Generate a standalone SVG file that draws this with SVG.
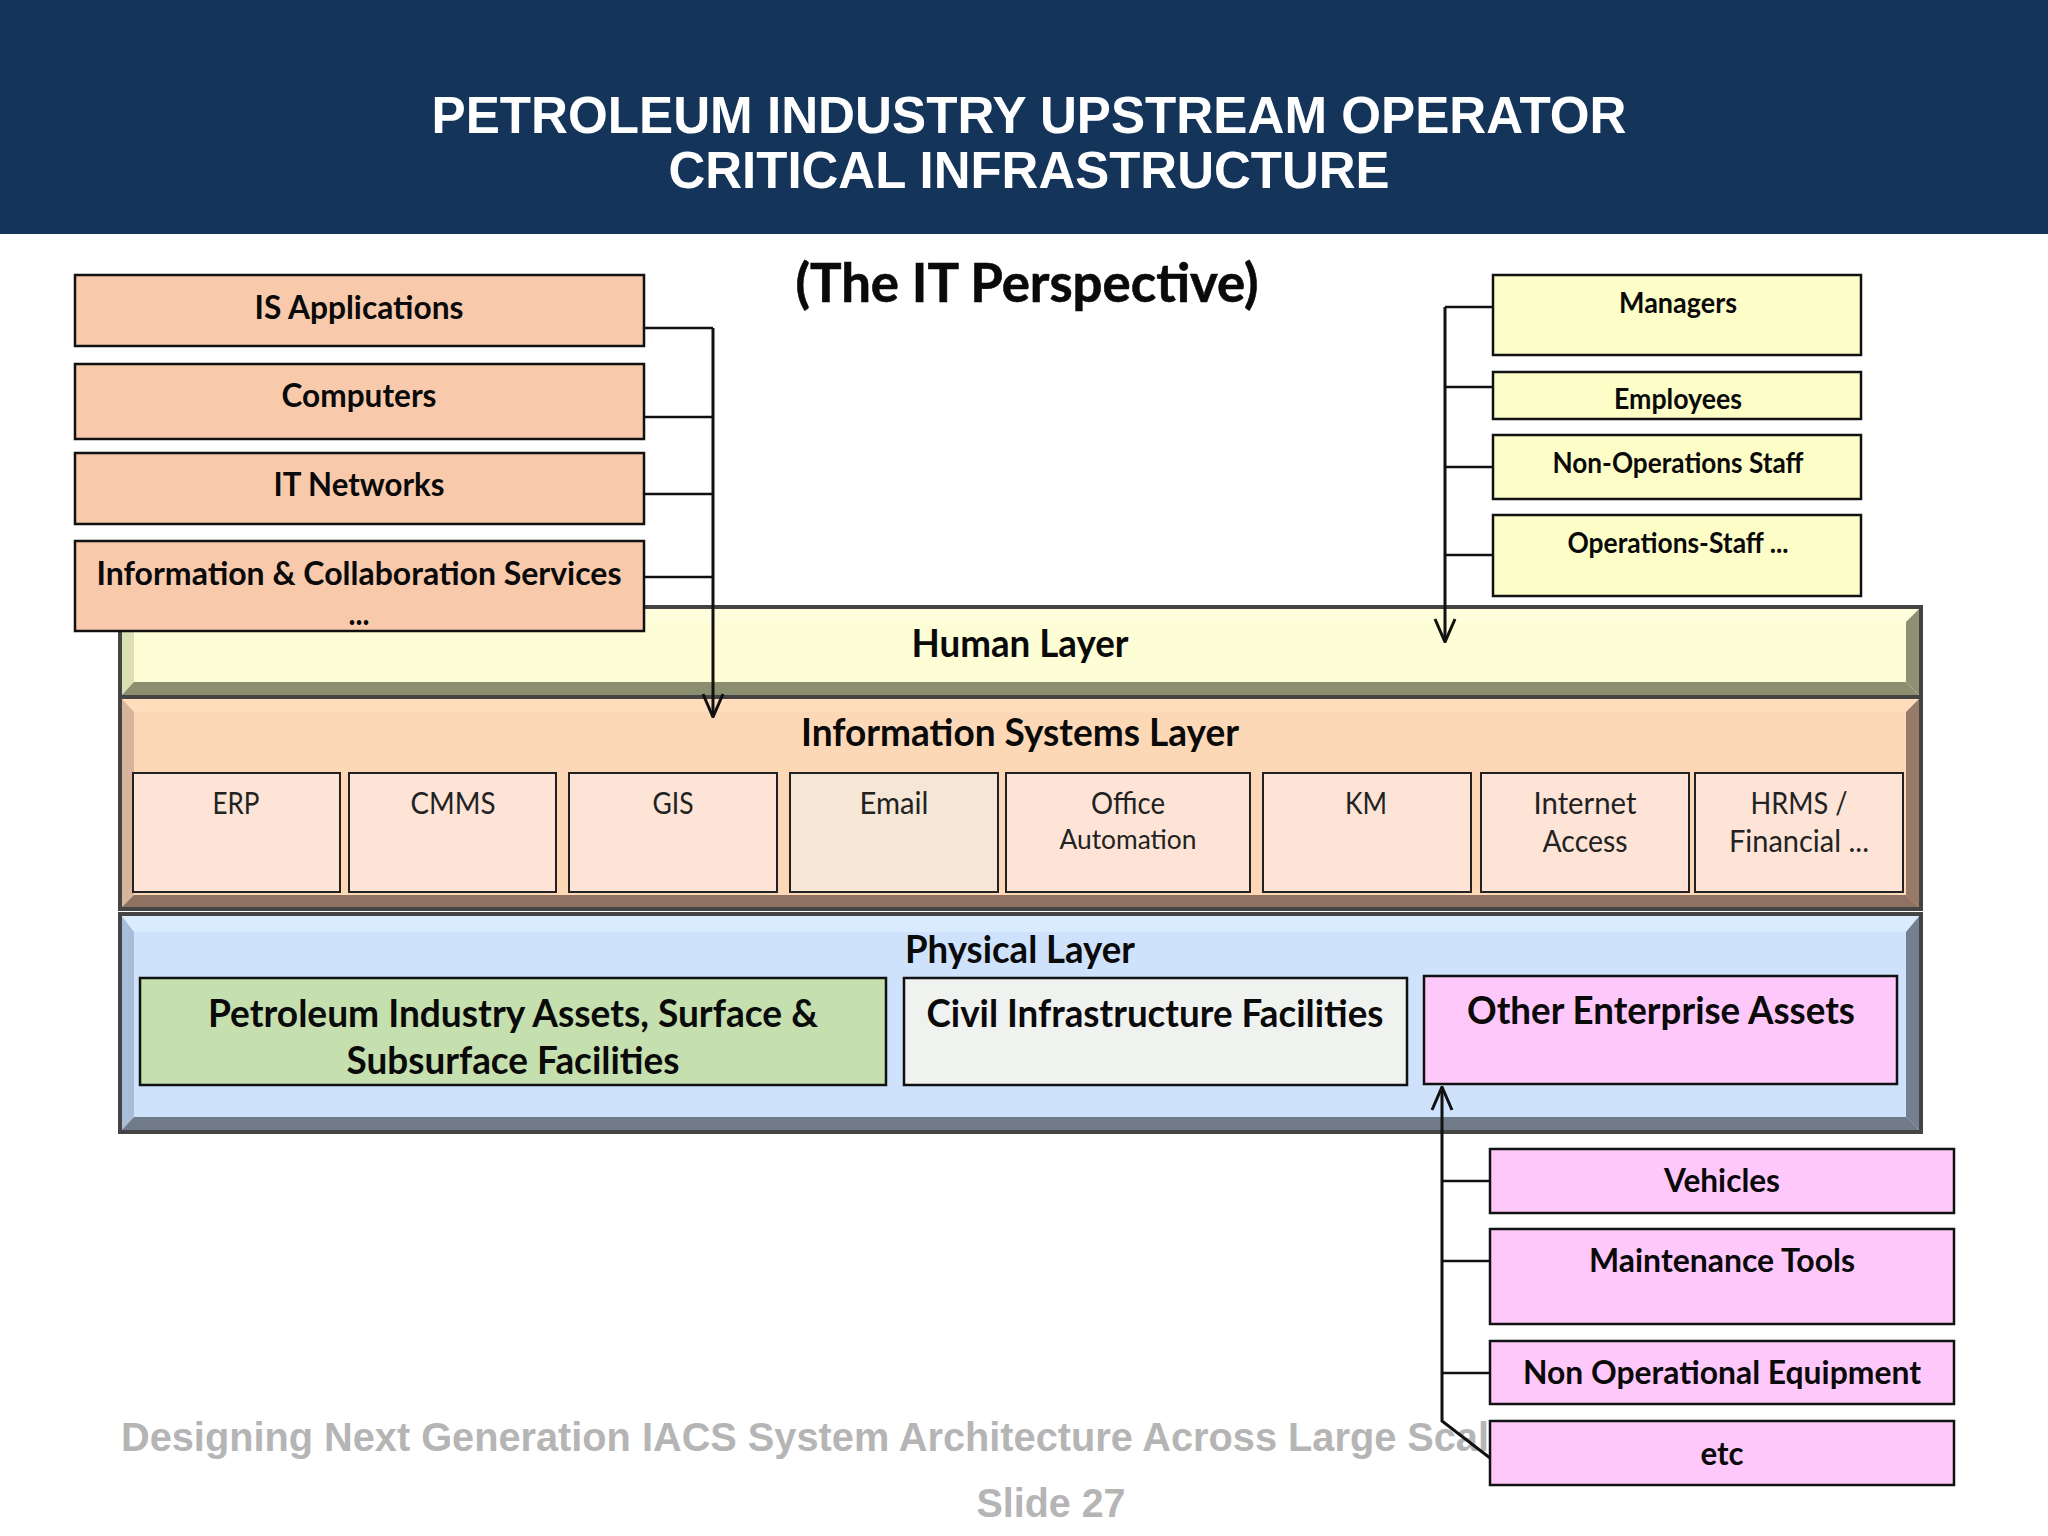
<svg xmlns="http://www.w3.org/2000/svg" width="2048" height="1536" viewBox="0 0 2048 1536">
<defs>
<style>
text{font-family:"Lato","Carlito","Open Sans",sans-serif;text-anchor:middle;fill:#0a0a0a}
.b{font-weight:700}
.s28{font-size:28px}.s32{font-size:32px}.s38{font-size:38px}
.r{font-size:30px;font-weight:400;fill:#222}
.box{stroke:#111;stroke-width:2.5}
.or{fill:#f8c9ab}.ye{fill:#fdfdc8}.pk{fill:#fec8fb}
.sub{fill:#fde4d6;stroke:#222;stroke-width:2}
.frame{fill:none;stroke:#444;stroke-width:4}
.foot{font-family:"Liberation Sans",Arial,sans-serif;font-weight:700;fill:#b5b5b5;font-size:41px}
.conn{fill:none;stroke:#111;stroke-width:2.5}
.trunk{stroke-width:3}
</style>
<marker id="open" markerUnits="userSpaceOnUse" viewBox="0 0 26 24" refX="25" refY="12" markerWidth="26" markerHeight="24" orient="auto"><path d="M2 2L25 12L2 22" fill="none" stroke="#111" stroke-width="3"/></marker>
</defs>
<rect width="2048" height="1536" fill="#fff"/>
<g id="header">
<rect width="2048" height="234" fill="#15345a"/>
<text x="1029" y="133" textLength="1195" lengthAdjust="spacingAndGlyphs" style="font-family:'Liberation Sans',Arial,sans-serif;font-weight:700;font-size:51px;fill:#fff">PETROLEUM INDUSTRY UPSTREAM OPERATOR</text>
<text x="1029" y="188" textLength="721" lengthAdjust="spacingAndGlyphs" style="font-family:'Liberation Sans',Arial,sans-serif;font-weight:700;font-size:51px;fill:#fff">CRITICAL INFRASTRUCTURE</text>
</g>
<text id="subtitle" class="b" x="1027" y="302" font-size="53" textLength="463" lengthAdjust="spacingAndGlyphs" stroke="#0a0a0a" stroke-width="0.6">(The IT Perspective)</text>
<g id="footer">
<text class="foot" x="121" y="1451" style="text-anchor:start" textLength="1368" lengthAdjust="spacingAndGlyphs">Designing Next Generation IACS System Architecture Across Large Scal</text>
<text class="foot" x="1051" y="1517" textLength="149" lengthAdjust="spacingAndGlyphs">Slide 27</text>
</g>
<g id="human-layer">
<rect x="120" y="607" width="1801" height="90" fill="#fdfdd6"/>
<polygon points="120,607 1921,607 1906,622 134,622" fill="#fefedc"/>
<polygon points="120,607 134,622 134,682 120,697" fill="#dcdeb4"/>
<polygon points="1921,607 1906,622 1906,682 1921,697" fill="#8e9072"/>
<polygon points="120,697 134,682 1906,682 1921,697" fill="#8b8e6f"/>
<rect class="frame" x="120" y="607" width="1801" height="90"/>
<text class="b s38" x="1020" y="657" textLength="217" lengthAdjust="spacingAndGlyphs">Human Layer</text>
</g>
<g id="information-systems-layer">
<rect x="120" y="697" width="1801" height="212" fill="#fdd8b6"/>
<polygon points="120,697 1921,697 1906,712 134,712" fill="#fedcbc"/>
<polygon points="120,697 134,712 134,895 120,909" fill="#d9b49c"/>
<polygon points="1921,697 1906,712 1906,895 1921,909" fill="#987a68"/>
<polygon points="120,909 134,895 1906,895 1921,909" fill="#8f7262"/>
<rect class="frame" x="120" y="697" width="1801" height="212"/>
<text class="b s38" x="1020" y="746" textLength="438" lengthAdjust="spacingAndGlyphs">Information Systems Layer</text>
</g>
<g id="erp"><rect class="sub" x="133" y="773" width="207" height="119"/><text class="r" x="236" y="814" textLength="47" lengthAdjust="spacingAndGlyphs">ERP</text></g>
<g id="cmms"><rect class="sub" x="349" y="773" width="207" height="119"/><text class="r" x="453" y="814" textLength="85" lengthAdjust="spacingAndGlyphs">CMMS</text></g>
<g id="gis"><rect class="sub" x="569" y="773" width="208" height="119"/><text class="r" x="673" y="814" textLength="41" lengthAdjust="spacingAndGlyphs">GIS</text></g>
<g id="email"><rect class="sub" x="790" y="773" width="208" height="119" style="fill:#f6e6d6"/><text class="r" x="894" y="814" textLength="69" lengthAdjust="spacingAndGlyphs">Email</text></g>
<g id="office"><rect class="sub" x="1006" y="773" width="244" height="119"/><text class="r" x="1128" y="814" textLength="74" lengthAdjust="spacingAndGlyphs">Office</text><text class="r" x="1128" y="849" style="font-size:27px" textLength="137" lengthAdjust="spacingAndGlyphs">Automation</text></g>
<g id="km"><rect class="sub" x="1263" y="773" width="208" height="119"/><text class="r" x="1366" y="814" textLength="42" lengthAdjust="spacingAndGlyphs">KM</text></g>
<g id="internet"><rect class="sub" x="1481" y="773" width="208" height="119"/><text class="r" x="1585" y="814" textLength="103" lengthAdjust="spacingAndGlyphs">Internet</text><text class="r" x="1585" y="852" textLength="85" lengthAdjust="spacingAndGlyphs">Access</text></g>
<g id="hrms"><rect class="sub" x="1695" y="773" width="208" height="119"/><text class="r" x="1799" y="814" textLength="97" lengthAdjust="spacingAndGlyphs">HRMS /</text><text class="r" x="1799" y="852" textLength="140" lengthAdjust="spacingAndGlyphs">Financial ...</text></g>
<g id="physical-layer">
<rect x="120" y="914" width="1801" height="218" fill="#cfe2fb"/>
<polygon points="120,914 1921,914 1906,932 134,932" fill="#d9ecfd"/>
<polygon points="120,914 134,932 134,1117 120,1132" fill="#a9bcd8"/>
<polygon points="1921,914 1906,932 1906,1117 1921,1132" fill="#748090"/>
<polygon points="120,1132 134,1117 1906,1117 1921,1132" fill="#717a88"/>
<rect class="frame" x="120" y="914" width="1801" height="218"/>
<text class="b s38" x="1020" y="963" textLength="230" lengthAdjust="spacingAndGlyphs">Physical Layer</text>
</g>
<g id="petroleum-assets"><rect class="box" x="140" y="978" width="746" height="107" fill="#c5dfae"/><text class="b s38" x="513" y="1027" textLength="610" lengthAdjust="spacingAndGlyphs">Petroleum Industry Assets, Surface &amp;</text><text class="b s38" x="513" y="1074" textLength="333" lengthAdjust="spacingAndGlyphs">Subsurface Facilities</text></g>
<g id="civil-infrastructure"><rect class="box" x="904" y="978" width="503" height="107" fill="#f0f2f0"/><text class="b s38" x="1155" y="1027" textLength="457" lengthAdjust="spacingAndGlyphs">Civil Infrastructure Facilities</text></g>
<g id="other-assets"><rect class="box pk" x="1424" y="976" width="473" height="108"/><text class="b s38" x="1661" y="1024" textLength="388" lengthAdjust="spacingAndGlyphs">Other Enterprise Assets</text></g>
<g id="is-applications"><rect class="box or" x="75" y="275" width="569" height="71"/><text class="b s32" x="359" y="319" textLength="209" lengthAdjust="spacingAndGlyphs">IS Applications</text></g>
<g id="computers"><rect class="box or" x="75" y="364" width="569" height="75"/><text class="b s32" x="359" y="407" textLength="155" lengthAdjust="spacingAndGlyphs">Computers</text></g>
<g id="it-networks"><rect class="box or" x="75" y="453" width="569" height="71"/><text class="b s32" x="359" y="496" textLength="171" lengthAdjust="spacingAndGlyphs">IT Networks</text></g>
<g id="information-services"><rect class="box or" x="75" y="541" width="569" height="90"/><text class="b s32" x="359" y="585" textLength="525" lengthAdjust="spacingAndGlyphs">Information &amp; Collaboration Services</text><text class="b s32" x="359" y="625" textLength="21" lengthAdjust="spacingAndGlyphs">...</text></g>
<g id="managers"><rect class="box ye" x="1493" y="275" width="368" height="80"/><text class="b s28" x="1678" y="313" textLength="118" lengthAdjust="spacingAndGlyphs">Managers</text></g>
<g id="employees"><rect class="box ye" x="1493" y="372" width="368" height="47"/><text class="b s28" x="1678" y="409" textLength="128" lengthAdjust="spacingAndGlyphs">Employees</text></g>
<g id="non-operations-staff"><rect class="box ye" x="1493" y="435" width="368" height="64"/><text class="b s28" x="1678" y="473" textLength="251" lengthAdjust="spacingAndGlyphs">Non-Operations Staff</text></g>
<g id="operations-staff"><rect class="box ye" x="1493" y="515" width="368" height="81"/><text class="b s28" x="1678" y="553" textLength="221" lengthAdjust="spacingAndGlyphs">Operations-Staff ...</text></g>
<g id="vehicles"><rect class="box pk" x="1490" y="1149" width="464" height="64"/><text class="b s32" x="1722" y="1192" textLength="116" lengthAdjust="spacingAndGlyphs">Vehicles</text></g>
<g id="maintenance-tools"><rect class="box pk" x="1490" y="1229" width="464" height="95"/><text class="b s32" x="1722" y="1272" textLength="266" lengthAdjust="spacingAndGlyphs">Maintenance Tools</text></g>
<g id="non-operational-equipment"><rect class="box pk" x="1490" y="1341" width="464" height="63"/><text class="b s32" x="1722" y="1384" textLength="398" lengthAdjust="spacingAndGlyphs">Non Operational Equipment</text></g>
<g id="etc"><rect class="box pk" x="1490" y="1421" width="464" height="64"/><text class="b s32" x="1722" y="1465" textLength="43" lengthAdjust="spacingAndGlyphs">etc</text></g>
<g id="connectors">
<path class="conn" d="M644 328H713M644 417H713M644 494H713M644 577H713"/>
<path class="conn trunk" d="M713 328V717" marker-end="url(#open)"/>
<path class="conn" d="M1445 307H1493M1445 387H1493M1445 467H1493M1445 555H1493"/>
<path class="conn trunk" d="M1445 307V642" marker-end="url(#open)"/>
<path class="conn" d="M1442 1181H1490M1442 1261H1490M1442 1373H1490"/>
<path class="conn trunk" d="M1490 1458L1442 1421V1087" marker-end="url(#open)"/>
</g>
</svg>
